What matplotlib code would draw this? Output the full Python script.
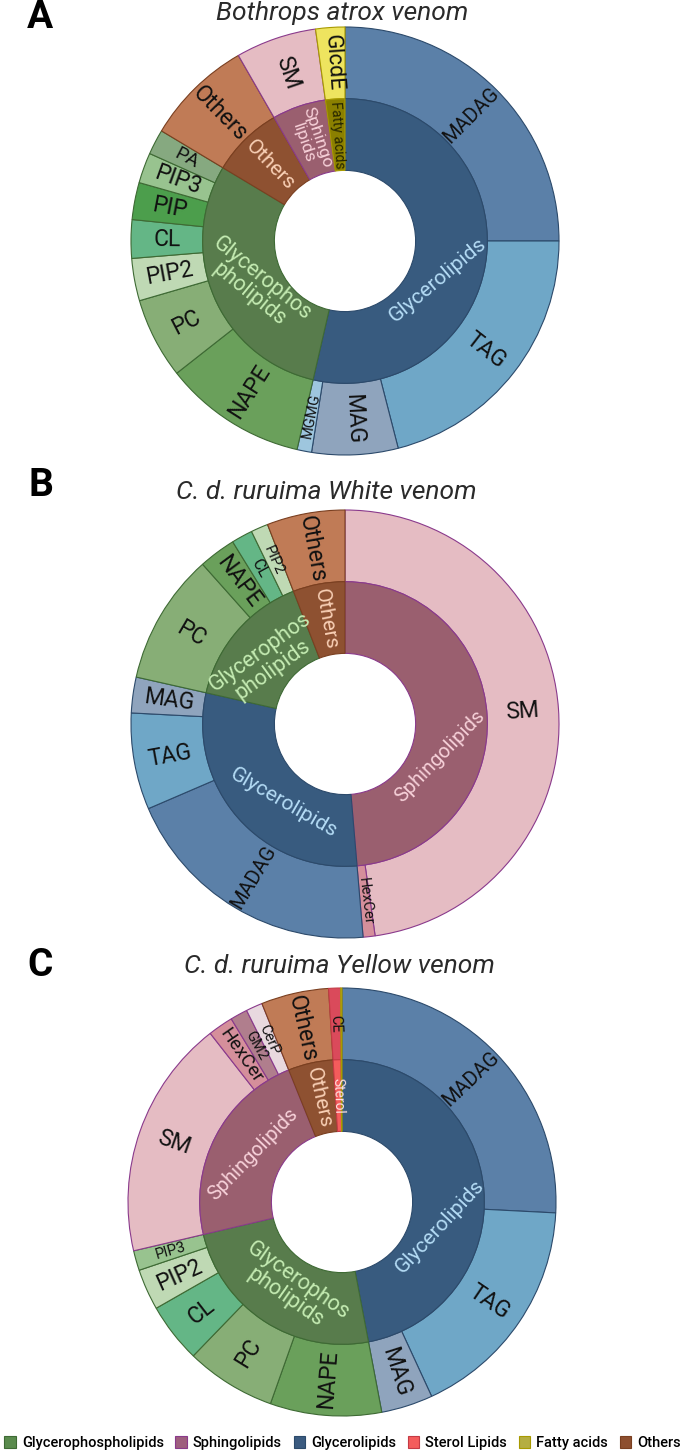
import matplotlib.pyplot as plt
import numpy as np
from matplotlib.patches import Patch

plt.rcParams['font.family'] = ['Roboto', 'DejaVu Sans']

W, H = 685, 1453

# A - Bothrops atrox (values in % of total)
a_labels = ['MADAG', 'TAG', 'MAG', 'MGMG', 'NAPE', 'PC', 'PIP2', 'CL', 'PIP', 'PIP3', 'PA', 'Others', 'SM', 'GlcdE']
a_values = [25.0, 21.0, 6.5, 1.1, 10.8, 6.1, 3.2, 2.9, 2.8, 2.3, 1.9, 8.1, 6.1, 2.2]
a_groups = ['Glycerolipids'] * 4 + ['Glycerophospholipids'] * 7 + ['Others', 'Sphingolipids', 'Fatty acids']
a_inner_text = ['Glycerolipids', 'Glycerophos\npholipids', 'Others', 'Sphingo\nlipids', 'Fatty acids']

# B - C. d. ruruima white
b_labels = ['SM', 'HexCer', 'MADAG', 'TAG', 'MAG', 'PC', 'NAPE', 'CL', 'PIP2', 'Others']
b_values = [47.8, 0.9, 19.9, 7.3, 2.7, 9.9, 2.8, 1.6, 1.3, 5.9]
b_groups = ['Sphingolipids'] * 2 + ['Glycerolipids'] * 3 + ['Glycerophospholipids'] * 4 + ['Others']
b_inner_text = ['Sphingolipids', 'Glycerolipids', 'Glycerophos\npholipids', 'Others']

# C - C. d. ruruima yellow
c_labels = ['MADAG', 'TAG', 'MAG', 'NAPE', 'PC', 'CL', 'PIP2', 'PIP3', 'SM', 'HexCer', 'GM2', 'CerP', 'Others', 'CE', '']
c_values = [25.8, 17.3, 3.9, 8.4, 6.8, 4.5, 3.1, 1.5, 18.1, 1.9, 1.3, 1.25, 5.1, 0.9, 0.1]
c_groups = (['Glycerolipids'] * 3 + ['Glycerophospholipids'] * 5 + ['Sphingolipids'] * 4
            + ['Others', 'Sterol Lipids', 'Fatty acids'])
c_inner_text = ['Glycerolipids', 'Glycerophos\npholipids', 'Sphingolipids', 'Others', 'Sterol', '']

legend_names = ['Glycerophospholipids', 'Sphingolipids', 'Glycerolipids', 'Sterol Lipids', 'Fatty acids', 'Others']

sub_colors = {'MADAG': '#5b80a8', 'TAG': '#6fa7c7', 'MAG': '#8fa4bd', 'MGMG': '#9ec6de',
              'NAPE': '#6aa05b', 'PC': '#87ae76', 'PIP2': '#bfd9b4', 'CL': '#64b686',
              'PIP': '#4c9e4c', 'PIP3': '#98c38f', 'PA': '#86a980', 'Others': '#c07b56',
              'SM': '#e5bcc3', 'HexCer': '#d58f9b', 'GM2': '#b07e8d', 'CerP': '#e8d9df',
              'GlcdE': '#eee45f', 'CE': '#da4a5b', '': '#b8b040'}
group_colors = {'Glycerolipids': '#385b7f', 'Glycerophospholipids': '#587c4c',
                'Sphingolipids': '#9a5f6f', 'Others': '#8e5131',
                'Fatty acids': '#8b8000', 'Sterol Lipids': '#f45c5c'}
edge_colors = {'Glycerolipids': '#2c4a6b', 'Glycerophospholipids': '#3e6a34',
               'Sphingolipids': '#8a3a8c', 'Others': '#7a3f20',
               'Fatty acids': '#a89a00', 'Sterol Lipids': '#c43a45'}
inner_text_colors = {'Glycerolipids': '#b4dcf5', 'Glycerophospholipids': '#c4ebb2',
                     'Sphingolipids': '#f6d0d8', 'Others': '#f8cfb5',
                     'Fatty acids': '#262600', 'Sterol Lipids': '#fde0e0'}
legend_colors = {'Glycerophospholipids': '#5a8b4d', 'Sphingolipids': '#9e5f7e',
                 'Glycerolipids': '#3b5b80', 'Sterol Lipids': '#f45c5c',
                 'Fatty acids': '#b5ae42', 'Others': '#8e4f2f'}

# big inner labels: (rotation, angle shift in degrees)
free_labels = {
    'A': {'Glycerolipids': (40, 16.5), 'Glycerophospholipids': (-39, -4)},
    'B': {'Sphingolipids': (46, 21), 'Glycerolipids': (-30, -11), 'Glycerophospholipids': (36, -2)},
    'C': {'Glycerolipids': (47, 19.5), 'Glycerophospholipids': (-35, -3), 'Sphingolipids': (46, 1)},
}

panels = [
    ('A', 'Bothrops atrox venom', a_labels, a_values, a_groups, a_inner_text,
     (345, 241), (342, 13), (40, 18)),
    ('B', 'C. d. ruruima White venom', b_labels, b_values, b_groups, b_inner_text,
     (345, 724), (326, 492), (41, 486)),
    ('C', 'C. d. ruruima Yellow venom', c_labels, c_values, c_groups, c_inner_text,
     (342, 1202), (339, 966), (40, 965)),
]

R = 214
R_HOLE, R_MID = 0.33, 0.665

fig = plt.figure(figsize=(W / 100, H / 100), dpi=100)
renderer = fig.canvas.get_renderer()


def radial_rot(a):
    a = a % 360
    if 90 < a <= 270:
        a -= 180
    elif a > 270:
        a -= 360
    return a


def fit_size(txt, length, height, lo, hi):
    t = fig.text(0, 0, txt, fontsize=10, linespacing=1.0)
    bb = t.get_window_extent(renderer)
    t.remove()
    s = 10 * min(length / bb.width, height / bb.height)
    return max(lo, min(hi, s))


for key, title, labels, values, groups, inner_text, (cx, cy), tpos, lpos in panels:
    ax = fig.add_axes([(cx - R) / W, 1 - (cy + R) / H, 2 * R / W, 2 * R / H])
    ax.axis('off')

    inner_names = list(dict.fromkeys(groups))
    inner_values = [sum(v for v, g in zip(values, groups) if g == n) for n in inner_names]

    outer, _ = ax.pie(values, radius=1.0, startangle=90, counterclock=False,
                      colors=[sub_colors[l] for l in labels],
                      wedgeprops=dict(width=1 - R_MID, linewidth=0.8))
    inner, _ = ax.pie(inner_values, radius=R_MID, startangle=90, counterclock=False,
                      colors=[group_colors[n] for n in inner_names],
                      wedgeprops=dict(width=R_MID - R_HOLE, linewidth=0.8))
    for w, g in zip(outer, groups):
        w.set_edgecolor(edge_colors[g])
        w.set_clip_on(False)
    for w, g in zip(inner, inner_names):
        w.set_edgecolor(edge_colors[g])
        w.set_clip_on(False)
    ax.set_xlim(-1, 1)
    ax.set_ylim(-1, 1)
    ax.set_aspect('auto')

    total = sum(values)
    thick = (1 - R_MID) * R

    # outer labels
    cum = 0
    for lab, v in zip(labels, values):
        mid = 360 * (cum + v / 2) / total
        cum += v
        if not lab:
            continue
        a = 90 - mid
        rm = (1 + R_MID) / 2
        chord = 2 * rm * R * np.sin(np.radians(360 * v / total / 2))
        fs = fit_size(lab, 0.98 * thick, 0.9 * chord, 10.5, 16.5)
        ax.text(rm * np.cos(np.radians(a)), rm * np.sin(np.radians(a)), lab,
                rotation=radial_rot(a), ha='center', va='center',
                rotation_mode='anchor', fontsize=fs, color='#111111')

    # inner labels
    cum = 0
    for name, v, txt in zip(inner_names, inner_values, inner_text):
        mid = 360 * (cum + v / 2) / total
        cum += v
        if not txt:
            continue
        col = inner_text_colors[name]
        if name in free_labels[key]:
            rot, shift = free_labels[key][name]
            a = 90 - (mid + shift)
            r = 0.47
            fs = fit_size(txt, 120, 200, 10, 16)
        else:
            a = 90 - mid
            r = (R_HOLE + R_MID) / 2
            rot = radial_rot(a)
            chord = 2 * r * R * np.sin(np.radians(360 * v / total / 2))
            fs = fit_size(txt, 0.88 * thick, 0.9 * chord, 10, 15)
        ax.text(r * np.cos(np.radians(a)), r * np.sin(np.radians(a)), txt,
                rotation=rot, ha='center', va='center', rotation_mode='anchor',
                multialignment='center', linespacing=1.0, fontsize=fs, color=col)

    fig.text(tpos[0] / W, 1 - tpos[1] / H, title, ha='center', va='center',
             fontsize=19, style='italic', color='#2a2a2a')
    fig.text(lpos[0] / W, 1 - lpos[1] / H, key, ha='center', va='center',
             fontsize=28, fontweight='bold', color='#000000')

handles = [Patch(facecolor=legend_colors[n], edgecolor=edge_colors[n], linewidth=0.8, label=n)
           for n in legend_names]
fig.legend(handles=handles, loc='center', bbox_to_anchor=(0.5, 1 - 1443 / H), ncol=6,
           frameon=False, handlelength=0.8, handleheight=0.8, handletextpad=0.4,
           columnspacing=0.8, borderpad=0, borderaxespad=0,
           prop=dict(family='Roboto', weight='medium', size=10.5))

fig.savefig('out.png', dpi=100, facecolor='white')
